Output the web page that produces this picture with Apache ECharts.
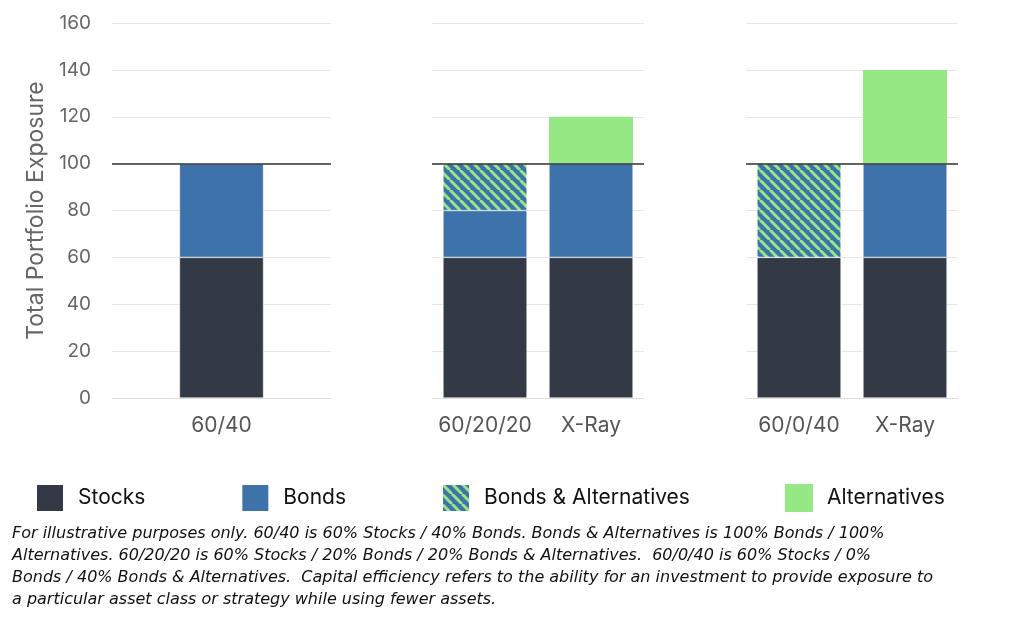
<!DOCTYPE html>
<html>
<head>
<meta charset="utf-8">
<script src="https://cdn.jsdelivr.net/npm/echarts@6/dist/echarts.min.js"></script>
<style>
  html, body { margin: 0; padding: 0; background: #fff; }
  #chart { width: 1024px; height: 624px; }
</style>
</head>
<body>
<div id="chart"></div>
<script>
// data per group
const groups = [["60/40"], ["60/20/20", "X-Ray"], ["60/0/40", "X-Ray"]];
const stocks = [[60], [60, 60], [60, 60]];
const bonds = [[40], [20, 40], [0, 40]];
const bondsAlt = [[0], [20, 0], [40, 0]];
const alts = [[0], [0, 20], [0, 40]];
const yTicks = [0, 20, 40, 60, 80, 100, 120, 140, 160];
const footnote = [
  "For illustrative purposes only. 60/40 is 60% Stocks / 40% Bonds. Bonds & Alternatives is 100% Bonds / 100%",
  "Alternatives. 60/20/20 is 60% Stocks / 20% Bonds / 20% Bonds & Alternatives.  60/0/40 is 60% Stocks / 0%",
  "Bonds / 40% Bonds & Alternatives.  Capital efficiency refers to the ability for an investment to provide exposure to",
  "a particular asset class or strategy while using fewer assets."
];

const font = "Inter";
const colStocks = "#333a45";
const colBonds = "#3d72aa";
const colAlts = "#96e884";

// striped pattern for Bonds & Alternatives
const pc = document.createElement("canvas");
pc.width = 10; pc.height = 10;
const ctx = pc.getContext("2d");
ctx.fillStyle = colBonds;
ctx.fillRect(0, 0, 10, 10);
ctx.strokeStyle = colAlts;
ctx.lineWidth = 3;
for (let k = -10; k <= 20; k += 10) {
  ctx.beginPath();
  ctx.moveTo(k, 0);
  ctx.lineTo(k + 10, 10);
  ctx.stroke();
}
const hatch = { image: pc, repeat: "repeat" };

const gridPos = [
  { left: 112, width: 219 },
  { left: 432, width: 212 },
  { left: 746, width: 212 },
];

const grids = gridPos.map(p => ({ left: p.left, width: p.width, top: 23, bottom: 226 }));

const xAxes = groups.map((g, i) => ({
  type: "category",
  gridIndex: i,
  data: g,
  axisTick: { show: false },
  axisLine: { lineStyle: { color: "#dddddd" } },
  axisLabel: { color: "#555", fontFamily: font, fontSize: 21, margin: 17, interval: 0, hideOverlap: false },
}));

const yAxes = groups.map((g, i) => ({
  type: "value",
  gridIndex: i,
  min: 0, max: 160, interval: 20,
  name: i === 0 ? "Total Portfolio Exposure" : "",
  nameLocation: "middle",
  nameGap: 64,
  nameTextStyle: { color: "#666", fontFamily: font, fontSize: 23 },
  axisLabel: {
    show: i === 0, color: "#666", fontFamily: font, fontSize: 19, margin: 21,
    formatter: v => yTicks.includes(v) ? String(v) : "",
  },
  splitLine: { lineStyle: { color: "#e6e6e6" } },
}));

const series = [];
groups.forEach((g, i) => {
  const base = { type: "bar", stack: "s" + i, xAxisIndex: i, yAxisIndex: i, barWidth: 84 };
  series.push({ ...base, name: "Stocks", data: stocks[i], itemStyle: { color: colStocks, borderColor: "#fff", borderWidth: 0.5 } });
  series.push({ ...base, name: "Bonds", data: bonds[i], itemStyle: { color: colBonds, borderColor: "#fff", borderWidth: 0.5 } });
  series.push({ ...base, name: "Bonds & Alternatives", data: bondsAlt[i], itemStyle: { color: hatch, borderColor: "#fff", borderWidth: 0.5 } });
  series.push({
    ...base, name: "Alternatives", data: alts[i], itemStyle: { color: colAlts },
    markLine: {
      silent: true, symbol: "none", label: { show: false },
      lineStyle: { color: "#333", type: "solid", width: 1.5 },
      data: [{ yAxis: 100 }],
    },
  });
});

const chart = echarts.init(document.getElementById("chart"));
chart.setOption({
  animation: false,
  grid: grids,
  xAxis: xAxes,
  yAxis: yAxes,
  legend: {
    left: 30, top: 478,
    itemWidth: 28, itemHeight: 28, itemGap: 95,
    icon: "rect",
    data: [
      { name: "Stocks", itemStyle: { color: colStocks } },
      { name: "Bonds", itemStyle: { color: colBonds } },
      { name: "Bonds & Alternatives", itemStyle: { color: hatch } },
      { name: "Alternatives", itemStyle: { color: colAlts } },
    ],
    textStyle: { color: "#111", fontFamily: font, fontSize: 21, padding: [0, 0, 0, 9] },
    selectedMode: false,
  },
  graphic: footnote.map((line, i) => ({
    type: "text",
    left: 12, top: 526 + i * 22,
    style: { text: line, fill: "#111", font: "italic 16px 'DejaVu Sans'" },
  })),
  series,
});
</script>
</body>
</html>
